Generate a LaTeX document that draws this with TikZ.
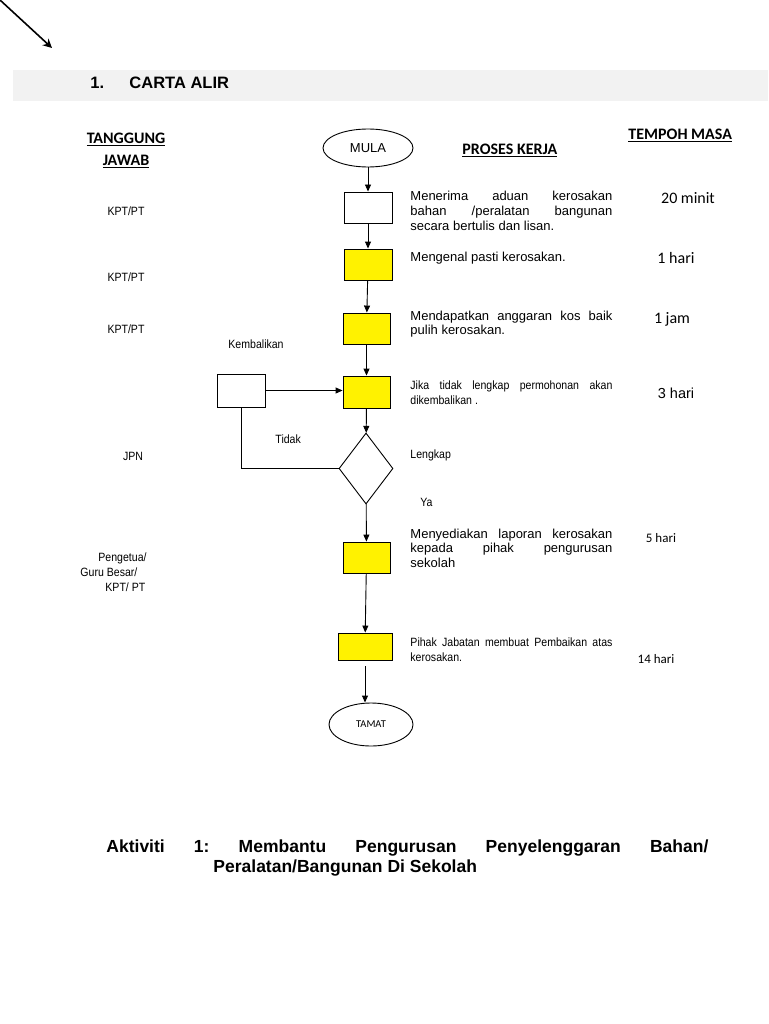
\documentclass[tikz,border=0pt]{standalone}
\usepackage{fontspec}
\setmainfont{Liberation Sans}
\newfontfamily\carl{Carlito}
\newfontfamily\narr[FakeStretch=0.88]{Liberation Sans}
\usetikzlibrary{positioning,shapes.geometric,arrows.meta}
\definecolor{band}{HTML}{F2F2F2}
\newcommand{\fs}[2]{\fontsize{#1}{#2}\selectfont}
\newcommand{\jl}[1]{\makebox[\linewidth][s]{#1}}
\newcommand{\pbox}[2]{\parbox[t]{#1}{#2}}
\frenchspacing

\begin{document}
\begin{tikzpicture}[x=1pt,y=-1pt,line width=0.9pt,>={Triangle[length=7pt,width=6pt]},
    kotak/.style={draw, minimum width=48pt, minimum height=31pt, inner sep=0pt},
    kotakkuning/.style={kotak, fill=yellow},
    teks/.style={anchor=base west, inner sep=0pt},
    masa/.style={anchor=base, inner sep=0pt, font=\carl\fs{16}{19}},
    kiri/.style={anchor=base, inner sep=0pt, font=\narr\fs{12}{14}}]
    \useasboundingbox (0,0) rectangle (768,1024);
    \fill[band] (13,70) rectangle (768,101);
    \coordinate (p0) at (0,0);
    \coordinate (p1) at (52,48);
    \draw[-{Stealth[length=9pt,width=9pt]}, line width=1.6pt] (p0) -- (p1);

    \node[teks, font=\bfseries\fs{16.5}{20}] (no) at (90,89) {1.};
    \node[teks, font=\bfseries\fs{16.5}{20}] (carta) at (129,89) {CARTA ALIR};

    % tajuk
    \node[anchor=base, inner sep=0pt, font=\carl\bfseries\fs{16}{22}] (tj) at (126,144) {\pbox{120pt}{\centering\underline{TANGGUNG}\\\underline{JAWAB}}};
    \node[teks, font=\carl\bfseries\fs{16}{19}] (pk) at (462,155) {\underline{PROSES KERJA}};
    \node[teks, font=\carl\bfseries\fs{16}{19}] (tm) at (628,140) {\underline{TEMPOH MASA}};

    % carta
    \node[draw, ellipse, minimum width=90pt, minimum height=38pt, font=\fs{13}{15}] (mula) at (368,148) {MULA};
    \node[kotak] (b1) at (368,207.5) {};
    \node[kotakkuning] (b2) at (368,264.5) {};
    \node[kotakkuning, minimum width=47pt] (b3) at (366.5,328.5) {};
    \node[kotakkuning, minimum width=47pt, minimum height=32pt] (b4) at (366.5,392) {};
    \node[kotak, minimum height=33pt] (kb) at (241,390.5) {};
    \node[draw, diamond, minimum width=54pt, minimum height=71pt, inner sep=0pt] (dm) at (366,468.5) {};
    \node[kotakkuning, minimum width=47pt] (b5) at (366.5,557.5) {};
    \node[kotakkuning, minimum width=54pt, minimum height=27pt] (b6) at (365,646.5) {};
    \node[draw, ellipse, minimum width=84pt, minimum height=43pt, font=\carl\fs{10.5}{12}] (tamat) at (371,724.5) {TAMAT};

    \draw[->] (mula) -- (b1);
    \draw[->] (b1) -- (b2);
    \draw[->] (b2) -- (b3);
    \draw[->] (b3) -- (b4);
    \draw[->] (b4) -- (dm);
    \draw[->] (dm) -- (b5);
    \draw[->] (b5) -- (b6);
    \draw[->, shorten <=6pt] (b6.south) -- (b6.south |- tamat.north);
    \draw[->] (kb.east) -- (kb.east -| b4.west);
    \draw (kb.south) |- (dm.west);

    % proses kerja
    \node[teks, font=\fs{13}{14.5}] (t1) at (410,201) {\pbox{202pt}{\jl{Menerima aduan kerosakan}\\\jl{bahan /peralatan bangunan}\\secara bertulis dan lisan.}};
    \node[teks, font=\fs{13}{14.5}] (t2) at (410,261) {Mengenal pasti kerosakan.};
    \node[teks, font=\fs{13}{14.5}] (t3) at (410,320) {\pbox{202pt}{\jl{Mendapatkan anggaran kos baik}\\pulih kerosakan.}};
    \node[teks, font=\narr\fs{12}{14.5}] (t4) at (410,389.5) {\pbox{202pt}{\jl{Jika tidak lengkap permohonan akan}\\dikembalikan .}};
    \node[teks, font=\narr\fs{12}{14}] (lk) at (410,458) {Lengkap};
    \node[teks, font=\narr\fs{12}{14}] (ya) at (420,506) {Ya};
    \node[teks, font=\fs{13}{14.5}] (t5) at (410,538) {\pbox{202pt}{\jl{Menyediakan laporan kerosakan}\\\jl{kepada pihak pengurusan}\\sekolah}};
    \node[teks, font=\narr\fs{12}{15}] (t6) at (410,646) {\pbox{202pt}{\jl{Pihak Jabatan membuat Pembaikan atas}\\kerosakan.}};

    % tempoh masa
    \node[masa] (m1) at (688,204) {20 minit};
    \node[masa] (m2) at (676,263) {1 hari};
    \node[masa] (m3) at (672,323) {1 jam};
    \node[masa, font=\fs{14.5}{17}] (m4) at (676,398) {3 hari};
    \node[masa, font=\carl\fs{13}{15}] (m5) at (661,542) {5 hari};
    \node[masa, font=\carl\fs{13}{15}] (m6) at (656,663) {14 hari};

    % tanggung jawab
    \node[kiri] (r1) at (126,215) {KPT/PT};
    \node[kiri] (r2) at (126,281) {KPT/PT};
    \node[kiri] (r3) at (126,333) {KPT/PT};
    \node[kiri] (r4) at (133,460) {JPN};
    \node[kiri, anchor=base west] (r5) at (98,561) {Pengetua/};
    \node[kiri, anchor=base west] (r6) at (80,576) {Guru Besar/};
    \node[kiri, anchor=base west] (r7) at (105,591) {KPT/ PT};
    \node[kiri, anchor=base west] (kbl) at (228,348) {Kembalikan};
    \node[kiri, anchor=base west] (td) at (275,443) {Tidak};

    \node[teks, font=\bfseries\fs{17.5}{20}] (akt) at (106,852) {\pbox{602pt}{\jl{Aktiviti 1: Membantu Pengurusan Penyelenggaran Bahan/}\\\hspace*{107pt}Peralatan/Bangunan Di Sekolah}};
\end{tikzpicture}
\end{document}
